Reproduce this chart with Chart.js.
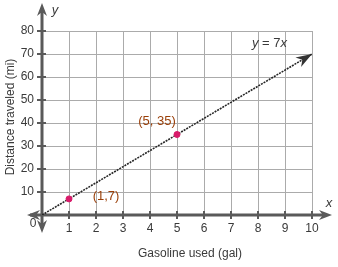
<!DOCTYPE html>
<html>
<head>
<meta charset="utf-8">
<script src="https://cdn.jsdelivr.net/npm/chart.js@4/dist/chart.umd.min.js"></script>
<style>
html,body{margin:0;padding:0;background:#fff;}
#wrap{width:338px;height:267px;}
</style>
</head>
<body>
<div id="wrap"><canvas id="c" width="338" height="267"></canvas></div>
<script>
// line y = 7x
const lineX = [0, 10];
const lineY = [0, 70];
// marked points
const pointX = [1, 5];
const pointY = [7, 35];
const pointLabels = ['(1,7)', '(5, 35)'];
const xTitle = 'Gasoline used (gal)';
const yTitle = 'Distance traveled (mi)';
const eqLabel = ['y', ' = 7', 'x'];

const FONT = '"Liberation Sans", Arial, sans-serif';
const AXIS = '#5a5a5a';

function tri(ctx, x, y, ang, len, half){
  ctx.save();
  ctx.translate(x, y); ctx.rotate(ang);
  ctx.beginPath();
  ctx.moveTo(0, 0);
  ctx.lineTo(-len, -half);
  ctx.lineTo(-len*0.7, 0);
  ctx.lineTo(-len, half);
  ctx.closePath();
  ctx.fill();
  ctx.restore();
}

const axesPlugin = {
  id: 'axes',
  beforeDatasetsDraw(chart){
    const {ctx, scales:{x, y}} = chart;
    const x0 = x.getPixelForValue(0), y0 = y.getPixelForValue(0);
    ctx.save();
    ctx.strokeStyle = AXIS; ctx.fillStyle = AXIS; ctx.lineWidth = 3;
    ctx.beginPath();
    ctx.moveTo(30, y0); ctx.lineTo(326, y0);
    ctx.moveTo(x0, 8); ctx.lineTo(x0, 228);
    ctx.stroke();
    tri(ctx, 332, y0, 0, 13, 5);
    tri(ctx, 27, y0, Math.PI, 13, 5);
    tri(ctx, x0, 3, -Math.PI/2, 13, 5);
    tri(ctx, x0, 233, Math.PI/2, 13, 5);
    ctx.lineWidth = 2;
    ctx.beginPath();
    for(let v = 1; v <= 10; v++){
      const px = x.getPixelForValue(v);
      ctx.moveTo(px, y0-4); ctx.lineTo(px, y0+4);
    }
    for(let v = 10; v <= 80; v += 10){
      const py = y.getPixelForValue(v);
      ctx.moveTo(x0-5, py); ctx.lineTo(x0+4, py);
    }
    ctx.stroke();
    ctx.restore();
  },
  afterDatasetsDraw(chart){
    const {ctx, scales:{x, y}} = chart;
    const x0 = x.getPixelForValue(0), y0 = y.getPixelForValue(0);
    ctx.save();
    // arrowhead of the line
    const ax = x.getPixelForValue(lineX[1]), ay = y.getPixelForValue(lineY[1]);
    const bx = x.getPixelForValue(lineX[0]), by = y.getPixelForValue(lineY[0]);
    ctx.fillStyle = '#333';
    tri(ctx, ax, ay, Math.atan2(ay-by, ax-bx), 16, 5.5);

    ctx.fillStyle = '#3a3a3a';
    ctx.font = '12px ' + FONT;
    ctx.textAlign = 'center'; ctx.textBaseline = 'middle';
    ctx.fillText('0', x0-9, y0+9);
    ctx.fillText(xTitle, 190, 254);
    ctx.save();
    ctx.translate(11, 117); ctx.rotate(-Math.PI/2);
    ctx.fillText(yTitle, 0, 0);
    ctx.restore();

    ctx.font = 'italic 13px ' + FONT;
    ctx.fillText('x', 329, 203);
    ctx.fillText('y', 55, 10);

    // equation label
    ctx.textAlign = 'left';
    let ex = 252;
    ctx.font = 'italic 13px ' + FONT; ctx.fillText(eqLabel[0], ex, 43);
    ex += ctx.measureText(eqLabel[0]).width;
    ctx.font = '13px ' + FONT; ctx.fillText(eqLabel[1], ex, 43);
    ex += ctx.measureText(eqLabel[1]).width;
    ctx.font = 'italic 13px ' + FONT; ctx.fillText(eqLabel[2], ex, 43);

    // point labels
    ctx.fillStyle = '#9a3f08';
    ctx.font = '13px ' + FONT;
    ctx.textAlign = 'center';
    const offs = [[37, -2], [-20, -13]];
    pointLabels.forEach((t, i) => {
      const px = x.getPixelForValue(pointX[i]), py = y.getPixelForValue(pointY[i]);
      ctx.fillText(t, px + offs[i][0], py + offs[i][1]);
    });
    ctx.restore();
  }
};

new Chart(document.getElementById('c'), {
  type: 'scatter',
  data: {
    datasets: [
      {
        data: pointX.map((v, i) => ({x: v, y: pointY[i]})),
        backgroundColor: '#d81b6a', borderColor: '#d81b6a',
        pointRadius: 3, pointHoverRadius: 3
      },
      {
        type: 'line',
        data: lineX.map((v, i) => ({x: v, y: lineY[i]})),
        borderColor: '#262626', borderWidth: 1.6, borderDash: [2, 1],
        pointRadius: 0, fill: false
      }
    ]
  },
  options: {
    responsive: false, animation: false,
    layout: {padding: {top: 31, right: 26, left: 0, bottom: 0}},
    plugins: {legend: {display: false}, tooltip: {enabled: false}},
    scales: {
      x: {
        type: 'linear', min: 0, max: 10,
        afterFit: s => { s.height = 52; },
        grid: {color: '#ababab', lineWidth: 1, drawTicks: false},
        border: {display: false},
        ticks: {stepSize: 1, padding: 6, color: '#3a3a3a', font: {family: FONT, size: 12},
          callback: v => v === 0 ? '' : v}
      },
      y: {
        min: 0, max: 80,
        afterFit: s => { s.width = 42; },
        grid: {color: '#ababab', lineWidth: 1, drawTicks: false},
        border: {display: false},
        ticks: {stepSize: 10, padding: 8, color: '#3a3a3a', font: {family: FONT, size: 12},
          callback: v => v === 0 ? '' : v}
      }
    }
  },
  plugins: [axesPlugin]
});
</script>
</body>
</html>
